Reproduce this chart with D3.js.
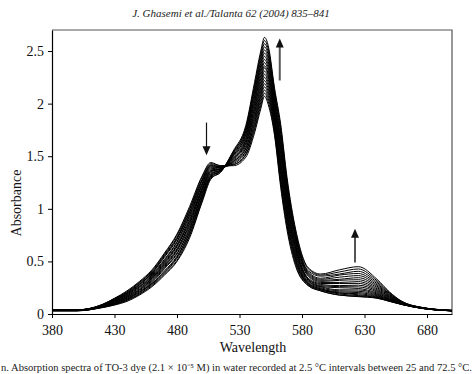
<!DOCTYPE html>
<html><head><meta charset="utf-8">
<script src="https://cdn.jsdelivr.net/npm/d3@7"></script>
<style>body{margin:0;background:#fff}svg{display:block}text{font-family:"Liberation Serif","Times New Roman",serif}</style>
</head><body><svg id="c" width="474" height="374"></svg>
<script>
// Wavelength grid (nm)
const wavelengths = [380,400,420,430,440,450,460,470,480,490,500,507,515,525,535,542,547,550,553,558,563,568,575,585,595,610,625,640,650,660,675,700];
// Temperatures (°C), one spectrum each
const temperatures = [25,27.5,30,32.5,35,37.5,40,42.5,45,47.5,50,52.5,55,57.5,60,62.5,65,67.5,70,72.5];
// Absorbance spectra
const s25   = [.040,.040,.090,.150,.22,.31,.42,.58,.76,1.02,1.31,1.44,1.41,1.41,1.49,1.72,1.95,2.07,1.99,1.70,1.20,.80,.45,.27,.22,.18,.165,.150,.120,.090,.055,.030];
const s27_5 = [.039,.039,.088,.147,.21,.30,.41,.57,.75,1.00,1.30,1.43,1.41,1.42,1.51,1.75,1.98,2.10,2.02,1.72,1.23,.83,.47,.27,.22,.18,.168,.152,.121,.090,.055,.030];
const s30   = [.039,.039,.087,.143,.21,.30,.40,.56,.73,.99,1.28,1.42,1.40,1.42,1.52,1.77,2.01,2.13,2.05,1.75,1.26,.85,.49,.28,.23,.19,.175,.156,.123,.091,.055,.030];
const s32_5 = [.038,.038,.085,.140,.20,.29,.39,.55,.72,.97,1.27,1.41,1.40,1.43,1.54,1.80,2.04,2.16,2.08,1.77,1.29,.88,.51,.28,.23,.20,.183,.161,.126,.092,.056,.030];
const s35   = [.038,.038,.084,.136,.20,.28,.39,.54,.71,.96,1.26,1.41,1.40,1.44,1.55,1.82,2.07,2.19,2.11,1.79,1.33,.91,.52,.29,.24,.20,.193,.167,.129,.093,.056,.030];
const s37_5 = [.037,.037,.082,.133,.19,.28,.38,.52,.69,.94,1.24,1.40,1.39,1.45,1.57,1.85,2.09,2.22,2.14,1.82,1.36,.93,.54,.29,.24,.21,.204,.174,.132,.094,.056,.031];
const s40   = [.037,.037,.081,.129,.19,.27,.37,.51,.68,.93,1.23,1.39,1.39,1.45,1.58,1.87,2.12,2.25,2.17,1.84,1.39,.96,.56,.30,.25,.22,.216,.182,.136,.095,.057,.031];
const s42_5 = [.036,.036,.079,.126,.18,.26,.36,.50,.66,.91,1.22,1.38,1.39,1.46,1.60,1.90,2.15,2.28,2.20,1.87,1.42,.98,.58,.31,.26,.23,.229,.190,.140,.097,.057,.031];
const s45   = [.036,.036,.077,.123,.18,.26,.35,.49,.65,.89,1.20,1.37,1.38,1.47,1.62,1.92,2.18,2.31,2.23,1.89,1.45,1.01,.60,.32,.26,.25,.243,.199,.145,.098,.058,.031];
const s47_5 = [.035,.035,.076,.119,.17,.25,.34,.48,.64,.88,1.19,1.36,1.38,1.48,1.63,1.95,2.21,2.34,2.26,1.91,1.48,1.04,.62,.33,.27,.26,.258,.209,.149,.100,.058,.032];
const s50   = [.035,.035,.074,.116,.17,.24,.34,.47,.62,.86,1.18,1.36,1.38,1.48,1.65,1.97,2.24,2.36,2.28,1.94,1.52,1.06,.63,.33,.28,.27,.274,.219,.154,.101,.059,.032];
const s52_5 = [.034,.034,.073,.112,.16,.23,.33,.46,.61,.85,1.17,1.35,1.38,1.49,1.66,2.00,2.27,2.39,2.31,1.96,1.55,1.09,.65,.34,.29,.29,.291,.229,.160,.103,.059,.032];
const s55   = [.034,.034,.071,.109,.16,.23,.32,.45,.60,.83,1.15,1.34,1.37,1.50,1.68,2.02,2.30,2.42,2.34,1.98,1.58,1.12,.67,.36,.30,.30,.308,.240,.165,.105,.060,.033];
const s57_5 = [.033,.033,.069,.106,.15,.22,.31,.44,.58,.81,1.14,1.33,1.37,1.51,1.70,2.05,2.33,2.45,2.37,2.01,1.61,1.14,.69,.37,.31,.32,.326,.252,.171,.107,.061,.033];
const s60   = [.033,.033,.068,.102,.15,.21,.30,.43,.57,.80,1.13,1.32,1.37,1.51,1.71,2.07,2.36,2.48,2.40,2.03,1.64,1.17,.71,.38,.32,.33,.345,.264,.177,.109,.061,.033];
const s62_5 = [.032,.032,.066,.099,.14,.21,.29,.41,.55,.78,1.11,1.31,1.36,1.52,1.73,2.10,2.38,2.51,2.43,2.06,1.67,1.19,.73,.39,.33,.35,.365,.276,.183,.111,.062,.034];
const s65   = [.032,.032,.065,.095,.14,.20,.29,.40,.54,.77,1.10,1.31,1.36,1.53,1.74,2.12,2.41,2.54,2.46,2.08,1.71,1.22,.74,.40,.34,.37,.385,.289,.190,.113,.063,.034];
const s67_5 = [.031,.031,.063,.092,.13,.19,.28,.39,.53,.75,1.09,1.30,1.36,1.54,1.76,2.15,2.44,2.57,2.49,2.10,1.74,1.25,.76,.41,.36,.38,.406,.302,.196,.115,.063,.034];
const s70   = [.031,.031,.062,.088,.13,.19,.27,.38,.51,.74,1.07,1.29,1.35,1.54,1.77,2.17,2.47,2.60,2.52,2.13,1.77,1.27,.78,.43,.37,.40,.428,.316,.203,.118,.064,.035];
const s72_5 = [.030,.030,.060,.085,.12,.18,.26,.37,.50,.72,1.06,1.28,1.35,1.55,1.79,2.20,2.50,2.63,2.55,2.15,1.80,1.30,.80,.44,.38,.42,.450,.330,.210,.120,.065,.035];
const spectra = [s25,s27_5,s30,s32_5,s35,s37_5,s40,s42_5,s45,s47_5,s50,s52_5,s55,s57_5,s60,s62_5,s65,s67_5,s70,s72_5];

const xTicks = [380,430,480,530,580,630,680];
const yTicks = [0,0.5,1,1.5,2,2.5];
const xLabel = "Wavelength";
const yLabel = "Absorbance";
const header = "J. Ghasemi et al./Talanta 62 (2004) 835–841";
const caption = "n.  Absorption spectra of TO-3 dye (2.1 × 10\u207B\u2075 M) in water recorded at 2.5 °C intervals between 25 and 72.5 °C.";
// Arrow annotations (wavelength, from absorbance, to absorbance)
const arrowX    = [503.6, 562.2, 622.4];
const arrowFrom = [1.82, 2.22, 0.49];
const arrowTo   = [1.51, 2.62, 0.81];

const svg = d3.select("#c");
svg.append("rect").attr("width",474).attr("height",374).attr("fill","#fff");

const L = 52, R = 452, T = 30, B = 314;
const x = d3.scaleLinear().domain([380,700]).range([L,R]);
const y = d3.scaleLinear().domain([0,2.7]).range([B,T]);

// header
svg.append("text").attr("x",231).attr("y",17).attr("text-anchor","middle")
  .attr("font-size",11).attr("font-style","italic").attr("fill","#222").text(header);

// frame top/right
svg.append("path").attr("d",`M${L},${T}H${R}V${B}`).attr("fill","none").attr("stroke","#555").attr("stroke-width",1.2);

// spectra
const line = d3.line().x((d,i)=>x(wavelengths[i])).y(d=>y(d)).curve(d3.curveMonotoneX);
svg.append("g").selectAll("path").data(spectra).join("path")
  .attr("d",line).attr("fill","none").attr("stroke","#000").attr("stroke-width",1);

// axes
const xa = svg.append("g").attr("transform",`translate(0,${B})`)
  .call(d3.axisBottom(x).tickValues(xTicks).tickSize(4).tickSizeOuter(0).tickPadding(7).tickFormat(d=>String(d)));
const ya = svg.append("g").attr("transform",`translate(${L},0)`)
  .call(d3.axisLeft(y).tickValues(yTicks).tickSize(4).tickSizeOuter(0).tickPadding(4).tickFormat(d=>String(d)));
[xa,ya].forEach(a=>{
  a.selectAll("text").attr("font-size",14).attr("fill","#111").attr("font-family",'"Liberation Serif",serif');
  a.select(".domain").attr("stroke","#000").attr("stroke-width",1.2);
  a.selectAll(".tick line").attr("stroke","#000");
});

// axis titles
svg.append("text").attr("x",253).attr("y",352).attr("text-anchor","middle").attr("font-size",14).attr("fill","#111").text(xLabel);
svg.append("text").attr("transform","translate(21,203) rotate(-90)").attr("text-anchor","middle").attr("font-size",14).attr("fill","#111").text(yLabel);

// arrows
arrowX.forEach((ax,i)=>{
  const px = x(ax), y0 = y(arrowFrom[i]), y1 = y(arrowTo[i]);
  const dir = y1 < y0 ? 1 : -1; // 1 = pointing up
  const headLen = 9;
  svg.append("line").attr("x1",px).attr("x2",px).attr("y1",y0).attr("y2",y1 + dir*headLen*0.8)
    .attr("stroke", i===0 ? "#111" : "#555").attr("stroke-width", i===0 ? 1.2 : 2);
  svg.append("path").attr("d",`M${px},${y1}L${px-4},${y1+dir*headLen}L${px+4},${y1+dir*headLen}Z`).attr("fill","#111");
});

// caption (fit into the page width)
svg.append("text").attr("x",1).attr("y",371).attr("font-size",10).attr("fill","#222")
  .attr("textLength",471).attr("lengthAdjust","spacingAndGlyphs").text(caption);
</script>
</body></html>
